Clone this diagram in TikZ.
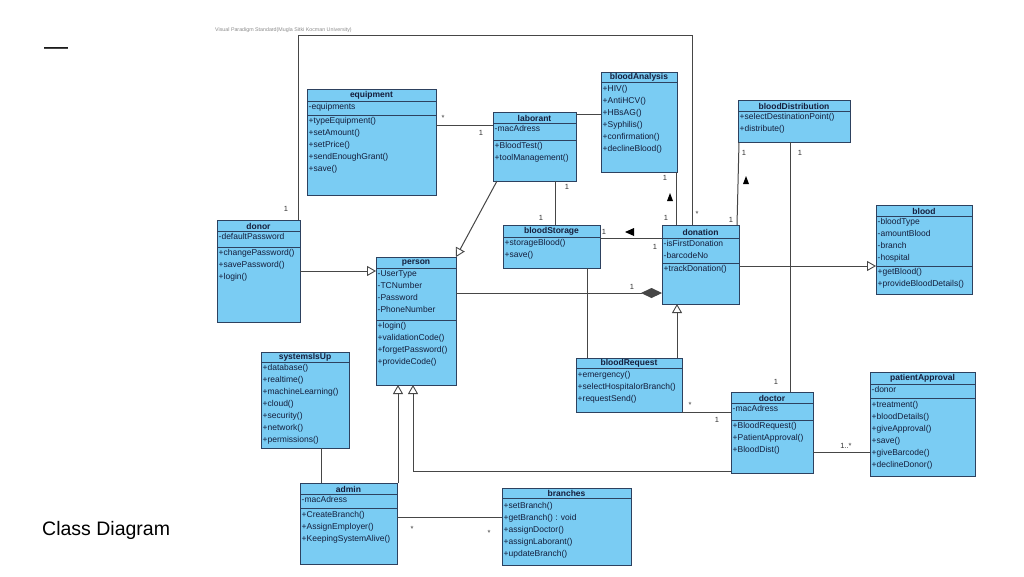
\documentclass[tikz,border=0pt]{standalone}
\usepackage{fontspec}
\setmainfont{Liberation Sans}
\usetikzlibrary{arrows.meta,fit}
\definecolor{boxfill}{RGB}{122,204,243}
\definecolor{boxline}{RGB}{45,65,95}
\definecolor{conn}{RGB}{70,70,70}
\definecolor{txt}{RGB}{20,30,60}
\tikzset{
  clsbox/.style={draw=boxline, fill=boxfill, line width=0.9pt, inner sep=0pt, outer sep=0pt},
  sepline/.style={draw=boxline, line width=0.8pt},
  clstitle/.style={font=\bfseries\fontsize{8.5}{10}\selectfont, text=txt, inner sep=0pt},
  clstext/.style={font=\fontsize{8.5}{12}\selectfont, text=txt, anchor=north west, inner sep=0pt, align=left},
  assoc/.style={draw=conn, line width=1pt},
  gen/.style={assoc, -{Triangle[open, length=9pt, width=10pt, line width=0.9pt]}},
  comp/.style={assoc, -{Diamond[length=21pt, width=10pt]}},
  mult/.style={font=\fontsize{7.5}{8}\selectfont, text=black!80, inner sep=0pt},
  navtri/.style={fill=black}
}
\newcommand\umlcls[7]{%
  \node[clsbox, fit={(#2,#3) (#4,#5)}] (#1) {};
  \draw[sepline] (#2,#6) -- (#4,#6);
  \node[clstitle] at ({(#2+#4)/2},{(#3+#6)/2+0.5}) {#7};
}
\newcommand\umlsep[3]{\draw[sepline] (#1,#3) -- (#2,#3);}
\newcommand\umltxt[3]{\node[clstext] at (#1,#2) {#3};}
\begin{document}
\begin{tikzpicture}[x=1pt,y=-1pt]
\useasboundingbox[fill=white] (0,0) rectangle (1024,576);

% page texts
\node[font=\fontsize{24}{24}\selectfont, inner sep=0pt] (dash) at (56,51) {\textemdash};
\node[font=\fontsize{19.5}{22}\selectfont, anchor=west, inner sep=0pt] (pagetitle) at (42,530) {Class Diagram};
\node[font=\fontsize{5.3}{6}\selectfont, text=black!45, anchor=west, inner sep=0pt] (vp) at (215,30) {Visual Paradigm Standard(Mugla Sitki Kocman University)};

\coordinate (topL) at (298,35);
\coordinate (topR) at (692,35);

% ---------- classes ----------
\umlcls{equipment}{307}{89}{436}{195}{101}{equipment}
\umlsep{307}{436}{115}
\umltxt{308.5}{103}{-equipments}
\umltxt{308.5}{117.5}{+typeEquipment()\\+setAmount()\\+setPrice()\\+sendEnoughGrant()\\+save()}

\umlcls{laborant}{493}{112}{576}{181}{123}{laborant}
\umlsep{493}{576}{140}
\umltxt{494.5}{125.5}{-macAdress}
\umltxt{494.5}{142.5}{+BloodTest()\\+toolManagement()}

\umlcls{bloodAnalysis}{601}{72}{677}{172}{82}{bloodAnalysis}
\umltxt{602.5}{85}{+HIV()\\+AntiHCV()\\+HBsAG()\\+Syphilis()\\+confirmation()\\+declineBlood()}

\umlcls{bloodDistribution}{738}{100}{850}{142}{111}{bloodDistribution}
\umltxt{739.5}{113.5}{+selectDestinationPoint()\\+distribute()}

\umlcls{donor}{217}{220}{300}{322}{231}{donor}
\umlsep{217}{300}{247}
\umltxt{218.5}{233.5}{-defaultPassword}
\umltxt{218.5}{249.5}{+changePassword()\\+savePassword()\\+login()}

\umlcls{person}{376}{257}{456}{385}{268}{person}
\umlsep{376}{456}{320}
\umltxt{377.5}{270.5}{-UserType\\-TCNumber\\-Password\\-PhoneNumber}
\umltxt{377.5}{322.5}{+login()\\+validationCode()\\+forgetPassword()\\+provideCode()}

\umlcls{bloodStorage}{503}{225}{600}{268}{237}{bloodStorage}
\umltxt{504.5}{239.5}{+storageBlood()\\+save()}

\umlcls{donation}{662}{225}{739}{304}{238}{donation}
\umlsep{662}{739}{263}
\umltxt{663.5}{240.5}{-isFirstDonation\\-barcodeNo}
\umltxt{663.5}{265.5}{+trackDonation()}

\umlcls{blood}{876}{205}{972}{294}{216}{blood}
\umlsep{876}{972}{266}
\umltxt{877.5}{218.5}{-bloodType\\-amountBlood\\-branch\\-hospital}
\umltxt{877.5}{268.5}{+getBlood()\\+provideBloodDetails()}

\umlcls{systemsIsUp}{261}{352}{349}{448}{362}{systemsIsUp}
\umltxt{262.5}{364.5}{+database()\\+realtime()\\+machineLearning()\\+cloud()\\+security()\\+network()\\+permissions()}

\umlcls{bloodRequest}{576}{358}{682}{412}{368}{bloodRequest}
\umltxt{577.5}{371}{+emergency()\\+selectHospitalorBranch()\\+requestSend()}

\umlcls{doctor}{731}{392}{813}{473}{403}{doctor}
\umlsep{731}{813}{420}
\umltxt{732.5}{405.5}{-macAdress}
\umltxt{732.5}{422.5}{+BloodRequest()\\+PatientApproval()\\+BloodDist()}

\umlcls{patientApproval}{870}{372}{975}{476}{384}{patientApproval}
\umlsep{870}{975}{398}
\umltxt{871.5}{386.5}{-donor}
\umltxt{871.5}{401}{+treatment()\\+bloodDetails()\\+giveApproval()\\+save()\\+giveBarcode()\\+declineDonor()}

\umlcls{admin}{300}{483}{397}{564}{494}{admin}
\umlsep{300}{397}{508}
\umltxt{301.5}{496.5}{-macAdress}
\umltxt{301.5}{511}{+CreateBranch()\\+AssignEmployer()\\+KeepingSystemAlive()}

\umlcls{branches}{502}{488}{631}{565}{498}{branches}
\umltxt{503.5}{502}{+setBranch()\\+getBranch() : void\\+assignDoctor()\\+assignLaborant()\\+updateBranch()}

% ---------- connectors ----------
\draw[assoc] (donor.north -| topL) -- (topL) -- (topR) -- (donation.north -| topR);
\draw[assoc] (equipment.east |- 0,125) -- (laborant.west |- 0,125);
\draw[assoc] (laborant.east |- 0,114) -- (bloodAnalysis.west |- 0,114);
\draw[gen] ([xshift=4pt]laborant.south west) -- (person.north east);
\draw[assoc] (laborant.south -| 555,0) -- (bloodStorage.north -| 555,0);
\draw[assoc] (bloodAnalysis.south -| 676,0) -- (donation.north -| 676,0);
\draw[assoc] (bloodDistribution.south -| 739,0) -- (donation.north -| 737,0);
\draw[assoc] (bloodDistribution.south -| 790,0) -- (doctor.north -| 790,0);
\draw[assoc] (bloodStorage.east |- 0,238) -- (donation.west |- 0,238);
\draw[assoc] (bloodStorage.south -| 587,0) -- (bloodRequest.north -| 587,0);
\draw[comp] (person.east |- 0,293) -- (donation.west |- 0,293);
\draw[gen] (donation.east |- 0,266) -- (blood.west |- 0,266);
\draw[gen] (bloodRequest.north -| 677,0) -- (donation.south -| 677,0);
\draw[assoc] (bloodRequest.east |- 0,412) -- (doctor.west |- 0,412);
\draw[gen] (doctor.west |- 0,471) -- (413,471) -- (person.south -| 413,0);
\draw[assoc] (doctor.east |- 0,452) -- (patientApproval.west |- 0,452);
\draw[gen] (donor.east |- 0,271) -- (person.west |- 0,271);
\draw[gen] (admin.north -| 398,0) -- (person.south -| 398,0);
\draw[assoc] (systemsIsUp.south -| 321,0) -- (admin.north -| 321,0);
\draw[assoc] (admin.east |- 0,517) -- (branches.west |- 0,517);

% navigability markers
\fill[navtri] (667,201) -- (673,201) -- (670,193) -- cycle;
\fill[navtri] (743,184) -- (749,184) -- (746,176) -- cycle;
\fill[navtri] (625,232) -- (634,228) -- (634,236) -- cycle;

% multiplicities
\node[mult] at (286,209) {1};
\node[mult] at (697,214) {*};
\node[mult] at (443,118) {*};
\node[mult] at (481,133) {1};
\node[mult] at (567,187) {1};
\node[mult] at (541,218) {1};
\node[mult] at (665,178) {1};
\node[mult] at (666,218) {1};
\node[mult] at (744,153) {1};
\node[mult] at (731,220) {1};
\node[mult] at (800,153) {1};
\node[mult] at (776,382) {1};
\node[mult] at (604,232) {1};
\node[mult] at (655,247) {1};
\node[mult] at (632,287) {1};
\node[mult] at (690,405) {*};
\node[mult] at (717,420) {1};
\node[mult] at (846,446) {1..*};
\node[mult] at (412,529) {*};
\node[mult] at (489,533) {*};
\end{tikzpicture}
\end{document}
